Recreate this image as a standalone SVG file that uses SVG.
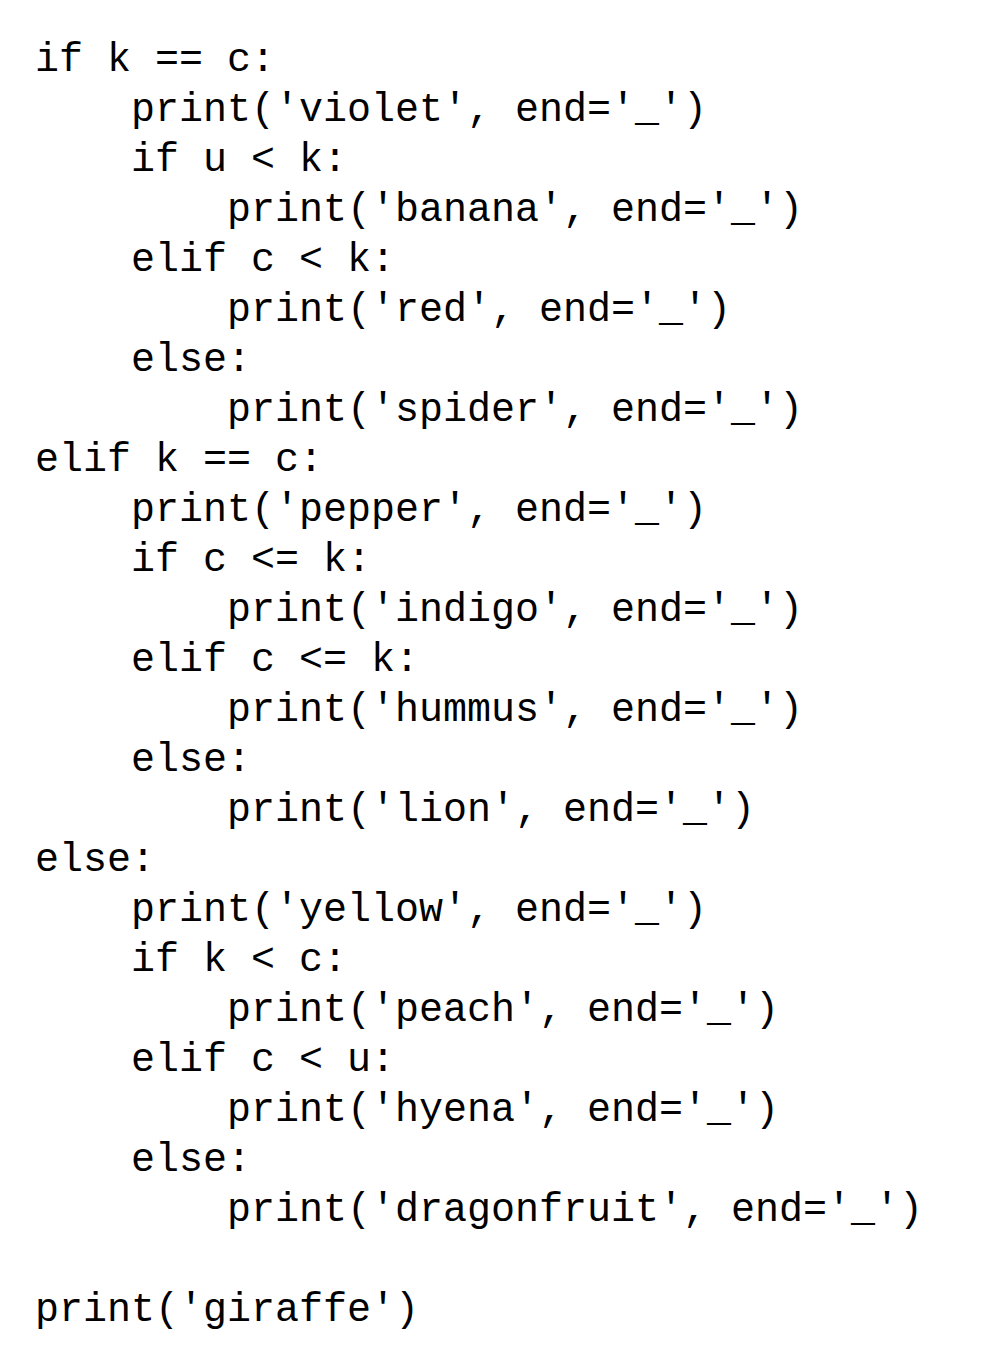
<svg xmlns="http://www.w3.org/2000/svg" width="996" height="1358" viewBox="0 0 996 1358">
<style>text{font-family:"Liberation Mono","Courier New",monospace;font-size:40px;fill:#000}</style>
<rect width="996" height="1358" fill="#fff"/>
<g id="code">
<text x="35" y="71">if k == c:</text>
<text x="131" y="121">print('violet', end='_')</text>
<text x="131" y="171">if u &lt; k:</text>
<text x="227" y="221">print('banana', end='_')</text>
<text x="131" y="271">elif c &lt; k:</text>
<text x="227" y="321">print('red', end='_')</text>
<text x="131" y="371">else:</text>
<text x="227" y="421">print('spider', end='_')</text>
<text x="35" y="471">elif k == c:</text>
<text x="131" y="521">print('pepper', end='_')</text>
<text x="131" y="571">if c &lt;= k:</text>
<text x="227" y="621">print('indigo', end='_')</text>
<text x="131" y="671">elif c &lt;= k:</text>
<text x="227" y="721">print('hummus', end='_')</text>
<text x="131" y="771">else:</text>
<text x="227" y="821">print('lion', end='_')</text>
<text x="35" y="871">else:</text>
<text x="131" y="921">print('yellow', end='_')</text>
<text x="131" y="971">if k &lt; c:</text>
<text x="227" y="1021">print('peach', end='_')</text>
<text x="131" y="1071">elif c &lt; u:</text>
<text x="227" y="1121">print('hyena', end='_')</text>
<text x="131" y="1171">else:</text>
<text x="227" y="1221">print('dragonfruit', end='_')</text>
<text x="35" y="1321">print('giraffe')</text>
</g>
</svg>
